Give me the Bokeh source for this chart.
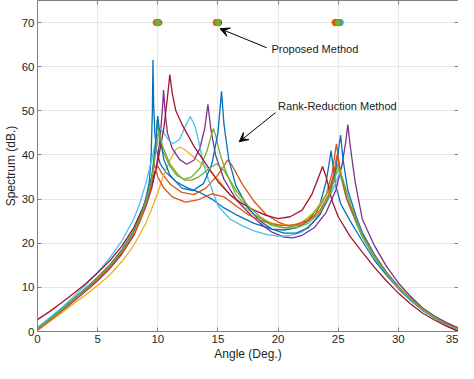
from bokeh.plotting import figure
from bokeh.models import Label, Arrow, VeeHead, LinearAxis, CustomJSTickFormatter, FixedTicker
from bokeh.embed import file_html
from bokeh.resources import INLINE

# ---- data ----
c1_x = [0, 1, 2, 3, 4, 5, 6, 7, 8, 8.5, 9, 9.3, 9.45, 9.55, 9.6, 9.65, 9.75, 9.9, 10.2, 10.7, 11.5, 12.5, 13.5, 14.5, 15.5, 16.5, 18, 19.5, 20.5, 21.5, 22.5, 23.5, 24.0, 24.3, 24.4, 24.5, 24.8, 25.2, 26, 27, 28, 29, 30, 31, 32, 33, 34, 35]
c1_y = [0.8, 2.9, 5.1, 7.4, 9.8, 12.3, 15.1, 18.5, 22.8, 25.8, 30.0, 34.0, 40.0, 50.0, 61.5, 52.0, 45.0, 41.0, 38.0, 36.0, 34.0, 32.5, 31.5, 30.0, 28.0, 26.5, 24.5, 23.2, 23.0, 23.5, 25.0, 29.0, 34.0, 39.0, 41.0, 39.0, 33.0, 29.0, 25.0, 20.5, 16.2, 12.8, 9.7, 7.1, 4.8, 3.0, 1.4, 0.2]

c2_x = [0, 1, 2, 3, 4, 5, 6, 7, 8, 8.5, 9, 9.5, 9.8, 10.0, 10.3, 11, 12, 13, 14, 15, 15.5, 15.8, 16.2, 17, 18, 19, 20, 21, 22, 23, 24, 24.5, 24.85, 25.2, 25.6, 26, 27, 28, 29, 30, 31, 32, 33, 34, 35]
c2_y = [0.5, 2.6, 4.8, 7.0, 9.4, 11.9, 14.6, 17.9, 22.1, 25.0, 28.8, 33.0, 36.5, 37.5, 36.0, 33.5, 31.5, 31.0, 32.5, 35.5, 37.5, 38.9, 37.5, 33.5, 29.5, 26.5, 24.8, 23.8, 24.2, 26.0, 31.0, 36.0, 42.5, 36.0, 31.0, 28.0, 21.5, 17.0, 13.3, 10.0, 7.4, 5.1, 3.2, 1.6, 0.5]

c3_x = [0, 1, 2, 3, 4, 5, 6, 7, 8, 9, 9.5, 10, 10.5, 11, 11.5, 11.8, 12.2, 13, 14, 15, 16, 17, 18, 19, 20, 21, 22, 23, 24, 24.6, 25.0, 25.3, 25.8, 26.5, 27, 28, 29, 30, 31, 32, 33, 34, 35]
c3_y = [0.2, 2.2, 4.2, 6.3, 8.3, 10.4, 12.8, 15.8, 19.5, 24.5, 27.8, 31.5, 35.5, 38.8, 41.2, 41.8, 41.3, 39.5, 37.3, 34.5, 31.0, 28.5, 26.5, 25.0, 24.2, 24.0, 24.8, 27.0, 31.0, 35.0, 37.5, 35.0, 30.0, 25.0, 22.0, 17.0, 13.3, 10.0, 7.4, 5.1, 3.2, 1.6, 0.4]

c4_x = [0, 1, 2, 3, 4, 5, 6, 7, 8, 9, 9.5, 9.9, 10.2, 10.4, 10.48, 10.6, 10.8, 11.2, 11.8, 12.4, 13, 13.5, 13.9, 14.17, 14.4, 14.8, 15.5, 16.5, 17.5, 18.5, 19.5, 20.5, 21.2, 22, 23, 24, 24.8, 25.3, 25.6, 25.8, 26, 26.4, 27, 28, 29, 30, 31, 32, 33, 34, 35]
c4_y = [0.4, 2.5, 4.6, 6.8, 9.1, 11.5, 14.2, 17.5, 21.7, 28.2, 32.5, 37.5, 44.0, 51.0, 54.7, 50.0, 45.0, 41.5, 39.0, 37.9, 38.8, 41.5, 46.0, 51.5, 46.0, 40.0, 34.5, 30.0, 27.0, 24.5, 22.5, 21.4, 21.2, 21.8, 23.5, 27.0, 32.0, 37.5, 42.5, 46.9, 42.0, 34.0, 25.5, 19.5, 14.8, 11.0, 8.0, 5.4, 3.5, 2.0, 0.8]

c5_x = [0, 1, 2, 3, 4, 5, 6, 7, 8, 8.5, 9, 9.5, 9.8, 9.95, 10.1, 10.4, 11, 11.6, 12.2, 12.8, 13.5, 14.1, 14.45, 14.63, 14.85, 15.2, 15.7, 16.5, 18, 19.5, 20.5, 21.5, 22.5, 23.5, 24.5, 25.0, 25.3, 25.8, 26.5, 27, 28, 29, 30, 31, 32, 33, 34, 35]
c5_y = [0.7, 2.8, 5.0, 7.3, 9.7, 12.2, 15.0, 18.4, 22.7, 25.7, 29.6, 35.0, 41.0, 48.0, 45.0, 41.0, 37.5, 35.3, 34.5, 35.0, 37.0, 41.0, 44.5, 46.0, 44.0, 40.0, 36.0, 31.0, 26.5, 24.0, 23.5, 24.0, 25.5, 28.5, 33.5, 38.0, 35.0, 29.5, 24.5, 21.5, 16.8, 13.1, 9.9, 7.3, 5.0, 3.1, 1.6, 0.4]

c6_x = [0, 1, 2, 3, 4, 5, 6, 7, 8, 8.5, 9, 9.5, 9.9, 10.2, 10.5, 11, 11.3, 11.8, 12.3, 12.7, 13.1, 13.4, 13.8, 14.2, 15, 16, 17, 18, 19, 20, 21, 22, 23, 24, 24.7, 25.1, 25.4, 26, 27, 28, 29, 30, 31, 32, 33, 34, 35]
c6_y = [0.9, 3.1, 5.4, 7.9, 10.5, 13.4, 16.6, 20.5, 25.5, 29.0, 33.5, 39.0, 44.0, 46.0, 45.0, 43.0, 42.6, 43.5, 46.5, 48.7, 46.5, 43.0, 38.0, 34.5, 28.5, 25.5, 24.0, 22.8, 22.0, 21.6, 21.7, 22.6, 25.0, 29.0, 33.0, 36.0, 33.0, 28.0, 21.5, 16.9, 13.2, 9.9, 7.3, 5.0, 3.1, 1.5, 0.3]

c7_x = [0, 1, 2, 3, 4, 5, 6, 7, 8, 9, 9.5, 10, 10.5, 10.8, 11.0, 11.2, 11.5, 12, 12.5, 13, 14, 15, 16, 17, 18, 19, 20, 21, 22, 22.8, 23.3, 23.7, 24.0, 24.5, 25, 26, 27, 28, 29, 30, 31, 32, 33, 34, 35]
c7_y = [2.7, 4.5, 6.5, 8.6, 10.8, 13.3, 16.0, 19.3, 23.5, 29.5, 33.5, 38.5, 46.0, 53.0, 58.2, 54.0, 50.0, 47.0, 44.5, 42.0, 38.0, 34.0, 31.0, 29.0, 27.5, 26.3, 25.6, 26.0, 27.5, 31.0, 34.5, 37.4, 35.0, 29.5, 26.0, 21.5, 18.0, 14.6, 11.5, 8.7, 6.3, 4.2, 2.6, 1.2, 0.0]

c8_x = [0, 1, 2, 3, 4, 5, 6, 7, 8, 8.5, 9, 9.5, 9.8, 10.0, 10.2, 10.5, 11, 12, 12.9, 13.8, 14.5, 15.0, 15.3, 15.5, 15.9, 16.5, 17.5, 18.5, 19.5, 20.5, 21.5, 22.5, 23.5, 24.3, 24.8, 25.2, 25.4, 25.8, 26.5, 27, 28, 29, 30, 31, 32, 33, 34, 35]
c8_y = [0.6, 2.7, 4.9, 7.2, 9.6, 12.1, 14.9, 18.3, 22.6, 25.6, 30.0, 35.0, 42.0, 48.8, 44.0, 39.0, 35.5, 32.5, 31.9, 33.5, 38.0, 45.0, 54.4, 47.0, 39.0, 33.0, 28.0, 25.0, 23.2, 22.3, 22.3, 23.5, 26.5, 31.0, 37.0, 44.5, 39.0, 32.0, 26.0, 22.5, 17.5, 13.5, 10.2, 7.5, 5.2, 3.3, 1.7, 0.5]

c9_x = [0, 1, 2, 3, 4, 5, 6, 7, 8, 8.5, 9, 9.4, 9.7, 10.0, 10.5, 11.2, 12.3, 13.3, 14.5, 15.5, 16.5, 17.5, 18.5, 19.5, 20.5, 21.5, 22.5, 23.5, 24.2, 24.6, 24.9, 25.2, 25.7, 26.5, 27, 28, 29, 30, 31, 32, 33, 34, 35]
c9_y = [0.4, 2.5, 4.7, 6.9, 9.3, 11.8, 14.5, 17.8, 22.0, 24.9, 28.6, 32.5, 38.0, 35.0, 32.5, 30.5, 29.3, 29.8, 31.2, 30.5, 28.5, 26.5, 25.2, 24.4, 24.0, 24.2, 25.2, 27.5, 31.0, 35.5, 40.0, 36.0, 30.0, 25.0, 22.0, 17.2, 13.4, 10.1, 7.5, 5.2, 3.3, 1.7, 0.6]

c10_x = [0, 1, 2, 3, 4, 5, 6, 7, 8, 8.5, 9, 9.5, 9.8, 10.1, 10.4, 11, 11.6, 12.2, 12.8, 13.4, 14.3, 14.9, 15.5, 16.5, 17.5, 18.5, 19.5, 20.5, 21.5, 22.5, 23.5, 24.3, 24.8, 25.1, 25.5, 26, 27, 28, 29, 30, 31, 32, 33, 34, 35]
c10_y = [0.6, 2.7, 4.9, 7.2, 9.6, 12.1, 14.9, 18.2, 22.5, 25.5, 29.4, 34.5, 40.0, 45.5, 42.0, 38.0, 35.8, 34.3, 34.3, 35.0, 37.0, 38.0, 36.5, 32.0, 28.5, 26.0, 24.3, 23.5, 23.5, 24.5, 27.0, 31.0, 35.5, 37.0, 33.5, 29.0, 21.8, 17.0, 13.2, 10.0, 7.4, 5.1, 3.2, 1.6, 0.5]

curves_x = [c1_x, c2_x, c3_x, c4_x, c5_x, c6_x, c7_x, c8_x, c9_x, c10_x]
curves_y = [c1_y, c2_y, c3_y, c4_y, c5_y, c6_y, c7_y, c8_y, c9_y, c10_y]
colors = ["#0072BD", "#D95319", "#EDB120", "#7E2F8E", "#77AC30",
          "#4DBEEE", "#A2142F", "#0072BD", "#D95319", "#77AC30"]

# proposed-method estimates (all plotted at 70 dB)
est_a = [9.95, 9.9, 10.12, 10.0, 9.95, 9.85, 10.05, 10.0, 9.9, 10.02]
est_b = [14.95, 14.85, 15.0, 15.05, 14.95, 15.0, 15.05, 14.95, 14.88, 15.0]
est_c = [25.15, 24.72, 24.75, 25.1, 24.95, 25.2, 24.85, 25.05, 24.8, 25.0]
est_level = 70

x_ticks = [0, 5, 10, 15, 20, 25, 30, 35]
y_ticks = [0, 10, 20, 30, 40, 50, 60, 70]

FONT = "Liberation Sans"
AX = "#7f7f7f"
TXT = "#262626"

p = figure(width=458, height=363, x_range=(0, 35), y_range=(0, 75),
           output_backend="svg", toolbar_location=None,
           min_border_left=0, min_border_right=0, min_border_top=0, min_border_bottom=0,
           background_fill_color="white", border_fill_color="white")
p.outline_line_color = None

for xs, ys, c in zip(curves_x, curves_y, colors):
    p.line(xs, ys, line_color=c, line_width=1.3)

for k, c in enumerate(colors):
    for arr in (est_a, est_b, est_c):
        p.scatter([arr[k]], [est_level], size=6, fill_color=c, line_color=c)

for ax in (p.xaxis[0], p.yaxis[0]):
    ax.axis_line_color = AX
    ax.major_tick_line_color = AX
    ax.major_tick_in = 4
    ax.major_tick_out = 0
    ax.minor_tick_line_color = None
    ax.major_label_text_font = FONT
    ax.major_label_text_font_size = "11.5px"
    ax.major_label_text_color = TXT
    ax.axis_label_text_font = FONT
    ax.axis_label_text_font_size = "12px"
    ax.axis_label_text_font_style = "normal"
    ax.axis_label_text_color = TXT
    ax.major_label_standoff = 3
    ax.axis_label_standoff = 1

p.xaxis.ticker = FixedTicker(ticks=x_ticks)
p.yaxis.ticker = FixedTicker(ticks=y_ticks)
p.xaxis.axis_label = "Angle (Deg.)"
p.yaxis.axis_label = "Spectrum (dB.)"

blank = CustomJSTickFormatter(code="return ''")
for side, tks in (("right", y_ticks), ("above", x_ticks)):
    a = LinearAxis(ticker=FixedTicker(ticks=tks), formatter=blank)
    a.axis_line_color = AX
    a.major_tick_line_color = AX
    a.major_tick_in = 4
    a.major_tick_out = 0
    a.minor_tick_line_color = None
    a.major_label_standoff = 0
    a.major_label_text_font_size = "0px"
    p.add_layout(a, side)

p.xgrid.ticker = FixedTicker(ticks=x_ticks)
p.ygrid.ticker = FixedTicker(ticks=y_ticks)
p.grid.grid_line_color = "#e8e8e8"
p.grid.grid_line_width = 1

p.add_layout(Label(x=19.45, y=63.9, text="Proposed Method", text_font=FONT,
                   text_font_size="11px", text_color="#1a1a1a", text_baseline="middle"))
p.add_layout(Label(x=20.0, y=51.2, text="Rank-Reduction Method", text_font=FONT,
                   text_font_size="11px", text_color="#1a1a1a", text_baseline="middle"))
p.add_layout(Arrow(x_start=19.05, y_start=64.3, x_end=15.19, y_end=68.6,
                   line_color="black", line_width=1,
                   end=VeeHead(size=9, fill_color="black", line_color="black")))
p.add_layout(Arrow(x_start=19.79, y_start=49.6, x_end=16.77, y_end=43.0,
                   line_color="black", line_width=1,
                   end=VeeHead(size=9, fill_color="black", line_color="black")))

open("out.html", "w").write(file_html(p, INLINE))
